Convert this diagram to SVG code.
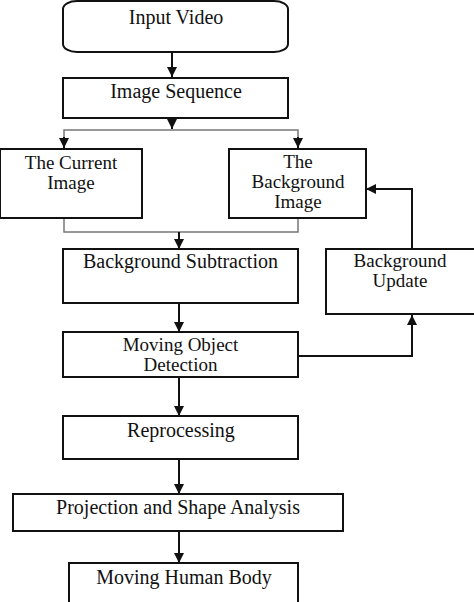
<svg xmlns="http://www.w3.org/2000/svg" width="474" height="602" viewBox="0 0 474 602">
<defs>
<style>
.box{fill:#fff;stroke:#111;stroke-width:2}
text{font-family:"Liberation Serif","Times New Roman",serif;font-size:20px;fill:#111;text-anchor:middle}
.m{font-size:19px}
.c{fill:none;stroke:#111;stroke-width:2}
.g{fill:none;stroke:#777;stroke-width:1.5}
</style>
<marker id="ah" viewBox="0 0 10 10" refX="10" refY="5" markerWidth="10" markerHeight="10" markerUnits="userSpaceOnUse" orient="auto">
<path d="M0,0 L10,5 L0,10 z" fill="#111"/>
</marker>
</defs>
<rect width="474" height="602" fill="#fff"/>
<g id="connectors">
<line class="c" x1="172" y1="52" x2="172" y2="77" marker-end="url(#ah)"/>
<line class="c" x1="172" y1="118" x2="172" y2="129" marker-end="url(#ah)"/>
<polyline class="g" points="64,148 64,130 298,130 298,148"/>
<line class="c" x1="64" y1="137" x2="64" y2="148" marker-end="url(#ah)"/>
<line class="c" x1="298" y1="137" x2="298" y2="148" marker-end="url(#ah)"/>
<polyline class="g" points="64,218 64,232 298,232 298,218"/>
<line class="c" x1="179" y1="232" x2="179" y2="249" marker-end="url(#ah)"/>
<line class="c" x1="179" y1="303" x2="179" y2="332" marker-end="url(#ah)"/>
<polyline class="c" points="412,249 412,189 366,189" marker-end="url(#ah)"/>
<polyline class="c" points="298,356 412,356 412,315" marker-end="url(#ah)"/>
<line class="c" x1="179" y1="377" x2="179" y2="416" marker-end="url(#ah)"/>
<line class="c" x1="179" y1="459" x2="179" y2="494" marker-end="url(#ah)"/>
<line class="c" x1="179" y1="531" x2="179" y2="563" marker-end="url(#ah)"/>
</g>
<g id="input-video">
<rect class="box" x="63" y="1" width="225" height="51" rx="14" ry="8"/>
<text x="176" y="24">Input Video</text>
</g>
<g id="image-sequence">
<rect class="box" x="63" y="78" width="225" height="40"/>
<text x="176" y="98">Image Sequence</text>
</g>
<g id="current-image">
<rect class="box" x="0" y="149" width="142" height="69"/>
<text class="m" x="71" y="169">The Current</text>
<text class="m" x="71" y="189">Image</text>
</g>
<g id="background-image">
<rect class="box" x="229" y="149" width="137" height="69"/>
<text class="m" x="298" y="168">The</text>
<text class="m" x="298" y="188">Background</text>
<text class="m" x="298" y="208">Image</text>
</g>
<g id="background-subtraction">
<rect class="box" x="63" y="249" width="235" height="54"/>
<text x="180.5" y="268">Background Subtraction</text>
</g>
<g id="background-update">
<rect class="box" x="326" y="249" width="150" height="65"/>
<text class="m" x="400" y="267">Background</text>
<text class="m" x="400" y="287">Update</text>
</g>
<g id="moving-object-detection">
<rect class="box" x="63" y="332" width="235" height="45"/>
<text class="m" x="180.5" y="351">Moving Object</text>
<text class="m" x="180.5" y="371">Detection</text>
</g>
<g id="reprocessing">
<rect class="box" x="63" y="416" width="235" height="43"/>
<text x="181" y="437">Reprocessing</text>
</g>
<g id="projection">
<rect class="box" x="13" y="494" width="330" height="37"/>
<text x="178" y="514">Projection and Shape Analysis</text>
</g>
<g id="moving-human-body">
<rect class="box" x="69" y="563" width="229" height="42"/>
<text x="184" y="584">Moving Human Body</text>
</g>
</svg>
